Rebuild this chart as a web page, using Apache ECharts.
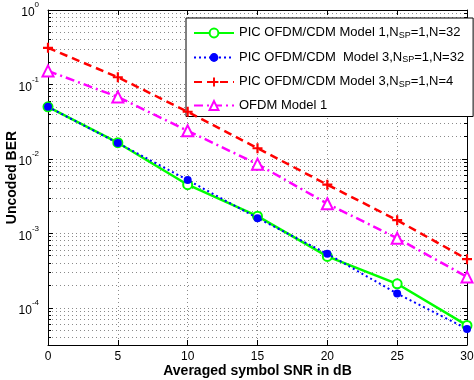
<!DOCTYPE html>
<html><head><meta charset="utf-8">
<script src="https://cdn.jsdelivr.net/npm/echarts@6/dist/echarts.min.js"></script>
<style>html,body{margin:0;padding:0;background:#fff}#c{width:474px;height:380px}</style>
</head><body><div id="c"></div>
<script>
var snr = [0, 5, 10, 15, 20, 25, 30];
var picModel1N32 = [0.05, 0.0165, 0.0045, 0.0017, 0.00049, 0.00021, 0.000058];
var picModel3N32 = [0.05, 0.0163, 0.0052, 0.0016, 0.00053, 0.000155, 0.000052];
var picModel3N4 = [0.31, 0.125, 0.043, 0.0139, 0.0045, 0.0015, 0.00045];
var ofdmModel1 = [0.152, 0.068, 0.0238, 0.0085, 0.0025, 0.00086, 0.00026];
var seriesNames = ['PIC OFDM/CDM Model 1,N_SP=1,N=32', 'PIC OFDM/CDM  Model 3,N_SP=1,N=32', 'PIC OFDM/CDM Model 3,N_SP=1,N=4', 'OFDM Model 1'];
var xTicks = {min: 0, max: 30, interval: 5};
var yMin = Math.pow(10, -4.5), yMax = 1;

function pairs(v) { return snr.map(function (x, i) { return [x, v[i]]; }); }
var FONT = 'Liberation Sans, Arial, Helvetica, sans-serif';
var gridLine = {show: true, lineStyle: {color: '#8a8a8a', type: [1, 3], width: 1}};
var plus = 'path://M-1,-0.22H-0.22V-1H0.22V-0.22H1V0.22H0.22V1H-0.22V0.22H-1Z';

function legendFmt(name) {
  var i = name.indexOf('_SP');
  if (i < 0) return '{a|' + name + '}';
  return '{a|' + name.slice(0, i) + '}{s|SP}{a|' + name.slice(i + 3) + '}';
}
function yFmt(v) {
  var e = Math.log10(v), r = Math.round(e);
  if (Math.abs(e - r) > 1e-6) return '';
  return '{b|10}{s|' + (r === 0 ? '0' : '-' + (-r)) + '}';
}

var chart = echarts.init(document.getElementById('c'), null, {renderer: 'canvas'});
chart.setOption({
  animation: false,
  backgroundColor: '#fff',
  textStyle: {fontFamily: FONT},
  grid: {left: 48, right: 7, top: 10, bottom: 35, containLabel: false, outerBoundsMode: 'none'},
  legend: {
    orient: 'vertical', left: 186, top: 18,
    padding: [7, 9, 5, 7], itemGap: 9.5, itemWidth: 40, itemHeight: 11,
    borderColor: '#000', borderWidth: 1, backgroundColor: '#fff', borderRadius: 0,
    data: seriesNames,
    formatter: legendFmt,
    textStyle: {
      fontFamily: FONT, color: '#000',
      rich: {
        a: {fontSize: 13, color: '#000', fontFamily: FONT, lineHeight: 14, verticalAlign: 'top'},
        s: {fontSize: 9, color: '#000', fontFamily: FONT, lineHeight: 10, padding: [6, 0, 0, 0], verticalAlign: 'bottom'}
      }
    }
  },
  xAxis: [{
    type: 'value', min: xTicks.min, max: xTicks.max, interval: xTicks.interval,
    name: 'Averaged symbol SNR in dB', nameLocation: 'middle', nameGap: 19, nameMoveOverlap: false,
    nameTextStyle: {fontSize: 14, fontWeight: 'bold', color: '#000', fontFamily: FONT},
    axisLine: {show: true, onZero: false, lineStyle: {color: '#000', width: 1}},
    axisTick: {show: true, inside: true, length: 5, lineStyle: {color: '#000'}},
    axisLabel: {fontSize: 12, color: '#000', margin: 6, fontFamily: FONT},
    splitLine: gridLine
  }, {
    type: 'value', position: 'top', min: xTicks.min, max: xTicks.max, interval: xTicks.interval,
    axisLine: {show: true, onZero: false, lineStyle: {color: '#000', width: 1}},
    axisTick: {show: true, inside: true, length: 5, lineStyle: {color: '#000'}},
    axisLabel: {show: false}, splitLine: {show: false}
  }],
  yAxis: [{
    type: 'log', logBase: 10, min: yMin, max: yMax,
    name: 'Uncoded BER', nameLocation: 'middle', nameGap: 29, nameMoveOverlap: false,
    nameTextStyle: {fontSize: 14, fontWeight: 'bold', color: '#000', fontFamily: FONT},
    axisLine: {show: true, onZero: false, lineStyle: {color: '#000', width: 1}},
    axisTick: {show: true, inside: true, length: 5, lineStyle: {color: '#000'}},
    minorTick: {show: true, splitNumber: 9, length: 3, lineStyle: {color: '#000'}},
    minorSplitLine: gridLine,
    axisLabel: {
      formatter: yFmt, margin: 9,
      rich: {
        b: {fontSize: 12, color: '#000', fontFamily: FONT, lineHeight: 18, verticalAlign: 'bottom'},
        s: {fontSize: 8, color: '#000', fontFamily: FONT, lineHeight: 10, verticalAlign: 'top'}
      }
    },
    splitLine: gridLine
  }, {
    type: 'log', logBase: 10, min: yMin, max: yMax, position: 'right',
    axisLine: {show: true, onZero: false, lineStyle: {color: '#000', width: 1}},
    axisTick: {show: true, inside: true, length: 5, lineStyle: {color: '#000'}},
    minorTick: {show: true, splitNumber: 9, length: 3, lineStyle: {color: '#000'}},
    axisLabel: {show: false}, splitLine: {show: false}
  }],
  series: [{
    name: seriesNames[0], type: 'line', data: pairs(picModel1N32), z: 2,
    symbol: 'emptyCircle', symbolSize: 9, showAllSymbol: true,
    lineStyle: {color: '#00ff00', width: 2.5},
    itemStyle: {color: '#00ff00', borderWidth: 2}
  }, {
    name: seriesNames[1], type: 'line', data: pairs(picModel3N32), z: 3,
    symbol: 'circle', symbolSize: 8,
    lineStyle: {color: '#0000ff', width: 2, type: [2, 3]},
    itemStyle: {color: '#0000ff'}
  }, {
    name: seriesNames[2], type: 'line', data: pairs(picModel3N4), z: 4,
    symbol: plus, symbolSize: 10,
    lineStyle: {color: '#ff0000', width: 2.5, type: [8, 5]},
    itemStyle: {color: '#ff0000'}
  }, {
    name: seriesNames[3], type: 'line', data: pairs(ofdmModel1), z: 5,
    symbol: 'emptyTriangle', symbolSize: 11,
    lineStyle: {color: '#ff00ff', width: 2.5, type: [9, 4, 2, 4]},
    itemStyle: {color: '#ff00ff', borderWidth: 2}
  }]
});
</script></body></html>
